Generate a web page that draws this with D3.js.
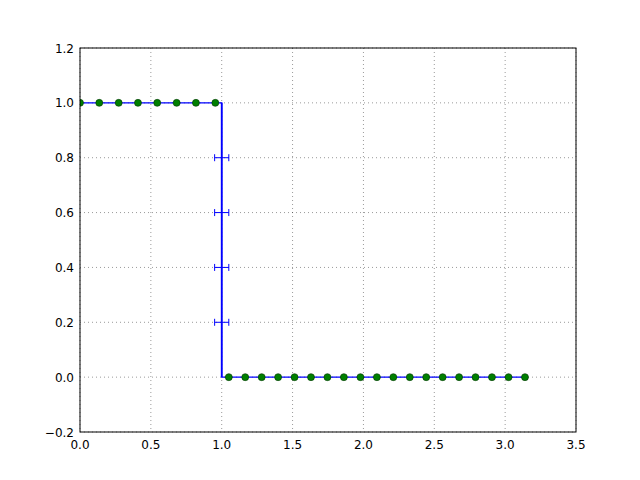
<!DOCTYPE html>
<html><head><meta charset="utf-8">
<script src="https://cdn.jsdelivr.net/npm/d3@7/dist/d3.min.js"></script>
<style>body{margin:0;background:#fff}svg{display:block}text{font-family:"DejaVu Sans",sans-serif;font-size:12px}</style>
</head><body>
<svg id="c" width="640" height="480"></svg>
<script>
const leftX = [0, 0.136, 0.273, 0.409, 0.545, 0.682, 0.818, 0.955];
const leftY = [1, 1, 1, 1, 1, 1, 1, 1];
const stepX = [1.0, 1.0];
const stepY = [1.0, 0.0];
const rightX = [1.05, 1.166, 1.282, 1.398, 1.514, 1.630, 1.746, 1.862, 1.979, 2.095, 2.211, 2.327, 2.443, 2.559, 2.675, 2.791, 2.907, 3.024, 3.140];
const rightY = [0,0,0,0,0,0,0,0,0,0,0,0,0,0,0,0,0,0,0];
const errX = [1, 1, 1, 1];
const errY = [0.2, 0.4, 0.6, 0.8];
const errXerr = [0.05, 0.05, 0.05, 0.05];
const xTicks = [0.0, 0.5, 1.0, 1.5, 2.0, 2.5, 3.0, 3.5];
const yTicks = [-0.2, 0.0, 0.2, 0.4, 0.6, 0.8, 1.0, 1.2];

const svg = d3.select("#c");
const L = 80, R = 576, T = 48, B = 432;
const x = d3.scaleLinear().domain([0, 3.5]).range([L, R]);
const y = d3.scaleLinear().domain([-0.2, 1.2]).range([B, T]);

svg.append("rect").attr("x",0).attr("y",0).attr("width",640).attr("height",480).attr("fill","#fff");

// grid
const g = svg.append("g");
xTicks.forEach(t => g.append("line").attr("x1", x(t)).attr("x2", x(t)).attr("y1", T).attr("y2", B)
  .attr("stroke", "#000").attr("stroke-opacity", 0.5).attr("stroke-width", 0.8).attr("stroke-dasharray", "1,3"));
yTicks.forEach(t => g.append("line").attr("y1", y(t)).attr("y2", y(t)).attr("x1", L).attr("x2", R)
  .attr("stroke", "#000").attr("stroke-opacity", 0.5).attr("stroke-width", 0.8).attr("stroke-dasharray", "1,3"));

// line data
const pts = [];
leftX.forEach((v,i) => pts.push([v, leftY[i]]));
stepX.forEach((v,i) => pts.push([v, stepY[i]]));
rightX.forEach((v,i) => pts.push([v, rightY[i]]));
const clip = svg.append("clipPath").attr("id","cp").append("rect").attr("x",L).attr("y",T).attr("width",R-L).attr("height",B-T);
const plot = svg.append("g").attr("clip-path","url(#cp)");

// error bars
errX.forEach((v,i) => {
  const yy = y(errY[i]);
  plot.append("line").attr("x1", x(v - errXerr[i])).attr("x2", x(v + errXerr[i])).attr("y1", yy).attr("y2", yy)
    .attr("stroke", "#0000ff").attr("stroke-width", 1);
  [v - errXerr[i], v + errXerr[i]].forEach(c => plot.append("line").attr("x1", x(c)).attr("x2", x(c))
    .attr("y1", yy - 3.5).attr("y2", yy + 3.5).attr("stroke", "#0000ff").attr("stroke-width", 1));
});

plot.append("path").attr("d", d3.line().x(d => x(d[0])).y(d => y(d[1]))(pts))
  .attr("fill","none").attr("stroke","#0000ff").attr("stroke-width",1.2);
// vertical thicker segment
plot.append("line").attr("x1", x(stepX[0])).attr("x2", x(stepX[1])).attr("y1", y(stepY[0])).attr("y2", y(stepY[1]))
  .attr("stroke","#0000ff").attr("stroke-width",1.8);

const markers = leftX.map((v,i)=>[v,leftY[i]]).concat(rightX.map((v,i)=>[v,rightY[i]]));
plot.selectAll("circle").data(markers).enter().append("circle")
  .attr("cx", d => x(d[0])).attr("cy", d => y(d[1])).attr("r", 3.5)
  .attr("fill", "#007f00").attr("stroke", "#003300").attr("stroke-width", 0.6);

// frame
svg.append("rect").attr("x",L).attr("y",T).attr("width",R-L).attr("height",B-T)
  .attr("fill","none").attr("stroke","#000").attr("stroke-width",1);

// tick labels
const fmt = d3.format(".1f");
xTicks.forEach(t => svg.append("text").attr("x", x(t)).attr("y", B + 17).attr("text-anchor","middle").text(fmt(t)));
yTicks.forEach(t => svg.append("text").attr("x", L - 6).attr("y", y(t) + 4.5).attr("text-anchor","end").text(fmt(t).replace("-", "\u2212")));
</script>
</body></html>
